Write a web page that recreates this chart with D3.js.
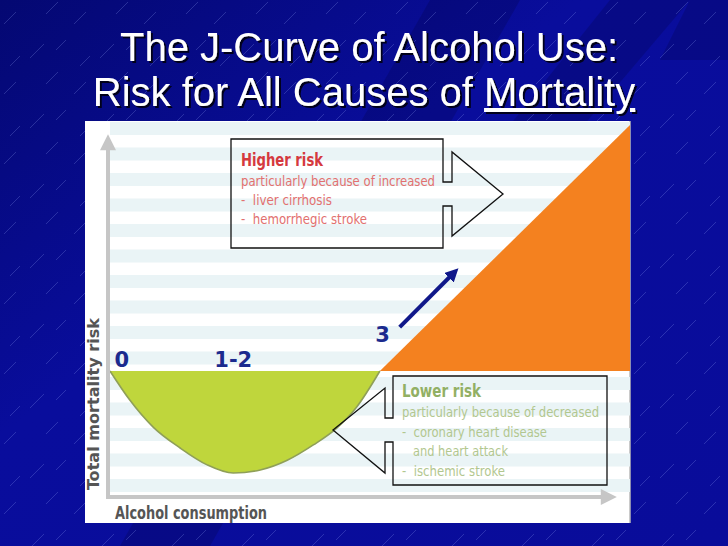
<!DOCTYPE html>
<html><head><meta charset="utf-8">
<script src="https://cdn.jsdelivr.net/npm/d3@7"></script>
<style>html,body{margin:0;padding:0;background:#0a0ca0;overflow:hidden}</style>
</head><body><svg id="c" width="728" height="546"></svg>
<script>
// ---- data ----
const titleLine1 = "The J-Curve of Alcohol Use:";
const titleLine2 = "Risk for All Causes of ";
const titleUnderlined = "Mortality";
const consumption   = [0, 0.22, 0.48, 0.78, 1.08, 1.37, 1.67, 1.97, 2.26, 2.52, 2.74, 3.0];
const mortalityRisk = [1.0, 0.943, 0.89, 0.849, 0.816, 0.80, 0.806, 0.825, 0.855, 0.888, 0.929, 1.0];
const highConsumption = [3.0, 5.78];
const highRisk = [1.0, 1.482];
const doseLabels = ["0", "1-2", "3"];
const doseAt = [0.13, 1.37, 3.03];
const doseLabelRisk = [1.008, 1.008, 1.057];
const higherTitle = "Higher risk";
const higherLines = ["particularly because of increased", "-  liver cirrhosis", "-  hemorrhegic stroke"];
const lowerTitle = "Lower risk";
const lowerLines = ["particularly because of decreased", "-  coronary heart disease", "and heart attack", "-  ischemic stroke"];
const yAxisLabel = "Total mortality risk";
const xAxisLabel = "Alcohol consumption";

// ---- layout (pixels) ----
const higherLineWidths = [194, 91, 126];
const lowerLineWidths = [197, 145, 95, 103];
const lowerLineIndent = [0, 0, 11, 0];

// ---- setup ----
const svg = d3.select("#c");
const W = 728, H = 546;
const defs = svg.append("defs");

// background
const bg = defs.append("linearGradient").attr("id","bg").attr("x1","0").attr("y1","0").attr("x2","1").attr("y2","1");
bg.append("stop").attr("offset","0").attr("stop-color","#040872");
bg.append("stop").attr("offset","0.4").attr("stop-color","#090d9c");
bg.append("stop").attr("offset","1").attr("stop-color","#090c9a");
const pat = defs.append("pattern").attr("id","streak").attr("width",70).attr("height",70).attr("patternUnits","userSpaceOnUse");
[[4,24,16,12],[30,58,44,44],[46,14,58,2],[10,66,20,56],[56,50,66,40]].forEach(l=>{
  pat.append("line").attr("x1",l[0]).attr("y1",l[1]).attr("x2",l[2]).attr("y2",l[3])
    .attr("stroke","rgba(160,175,255,0.33)").attr("stroke-width",0.7);
});
svg.append("rect").attr("width",W).attr("height",H).attr("fill","url(#bg)");
[[430,0,520,0,210,546,120,546],[610,0,690,0,520,200,450,200],[690,0,728,0,728,60,660,60]].forEach(p=>{
  svg.append("polygon").attr("points",`${p[0]},${p[1]} ${p[2]},${p[3]} ${p[4]},${p[5]} ${p[6]},${p[7]}`)
    .attr("fill","rgba(0,0,50,0.2)");
});
svg.append("rect").attr("width",W).attr("height",H).attr("fill","url(#streak)");

// title with drop shadow
const sh = defs.append("filter").attr("id","sh").attr("x","-5%").attr("y","-20%").attr("width","110%").attr("height","140%");
sh.append("feDropShadow").attr("dx",2).attr("dy",2).attr("stdDeviation",0.6).attr("flood-color","#000010").attr("flood-opacity",0.9);
const tg = svg.append("g").attr("font-family","'Liberation Sans', Arial, sans-serif").attr("font-size",40)
  .attr("text-anchor","middle").attr("fill","#ffffff").attr("filter","url(#sh)");
tg.append("text").attr("x",369).attr("y",61).text(titleLine1);
const t2 = tg.append("text").attr("x",364).attr("y",106);
t2.append("tspan").text(titleLine2);
t2.append("tspan").attr("text-decoration","underline").text(titleUnderlined);

// panel
svg.append("rect").attr("x",85).attr("y",121).attr("width",545).attr("height",402).attr("fill","#ffffff");
svg.append("line").attr("x1",630).attr("x2",630).attr("y1",121).attr("y2",523).attr("stroke","#b9b9b9").attr("stroke-width",1.5);

// scales
const x = d3.scaleLinear().domain([0, 5.78]).range([110, 630]);
const y = d3.scaleLinear().domain([0.753, 1.486]).range([497, 123]);

// stripes
const stripeTops = d3.range(122, 493, 25.5);
svg.append("g").selectAll("rect").data(stripeTops).join("rect")
  .attr("x",110).attr("width",520).attr("y",d=>d).attr("height",d=>Math.min(13, 493-d)).attr("fill","#eaf4f6");

// orange region
const high = highConsumption.map((c,i)=>({c, r: highRisk[i]}));
svg.append("path").datum(high)
  .attr("d", d3.area().x(d=>x(d.c)).y0(y(1)).y1(d=>y(d.r)))
  .attr("fill","#f4811f");

// green J-curve area
const low = consumption.map((c,i)=>({c, r: mortalityRisk[i]}));
svg.append("path").datum(low)
  .attr("d", d3.area().x(d=>x(d.c)).y0(y(1)).y1(d=>y(d.r)).curve(d3.curveMonotoneX))
  .attr("fill","#bfd63c");
svg.append("path").datum(low)
  .attr("d", d3.line().x(d=>x(d.c)).y(d=>y(d.r)).curve(d3.curveMonotoneX))
  .attr("fill","none").attr("stroke","#8f9f58").attr("stroke-width",1.6);

// axes (gray arrows)
defs.append("marker").attr("id","ah").attr("viewBox","0 0 10 10").attr("refX",2).attr("refY",5)
  .attr("markerWidth",5.5).attr("markerHeight",4).attr("orient","auto").attr("markerUnits","strokeWidth")
  .append("path").attr("d","M0,0 L10,5 L0,10 Z").attr("fill","#c6c6c6");
svg.append("line").attr("x1",108).attr("y1",499).attr("x2",108).attr("y2",147)
  .attr("stroke","#c6c6c6").attr("stroke-width",4).attr("marker-end","url(#ah)");
svg.append("line").attr("x1",106).attr("y1",497).attr("x2",604).attr("y2",497)
  .attr("stroke","#c6c6c6").attr("stroke-width",4).attr("marker-end","url(#ah)");

// axis titles
const labFont = "'DejaVu Sans Condensed','DejaVu Sans',sans-serif";
svg.append("text").attr("transform","translate(99,490) rotate(-90)")
  .attr("font-family",labFont).attr("font-weight","bold")
  .attr("font-size",16).attr("fill","#555555")
  .attr("textLength",172).attr("lengthAdjust","spacingAndGlyphs").text(yAxisLabel);
svg.append("text").attr("x",115).attr("y",519)
  .attr("font-family",labFont).attr("font-weight","bold")
  .attr("font-size",17).attr("fill","#555555")
  .attr("textLength",152).attr("lengthAdjust","spacingAndGlyphs").text(xAxisLabel);

// dose labels
svg.append("g").selectAll("text").data(doseLabels).join("text")
  .attr("x",(d,i)=>x(doseAt[i])).attr("y",(d,i)=>y(doseLabelRisk[i]))
  .attr("text-anchor","middle").attr("font-family","'DejaVu Sans',sans-serif").attr("font-weight","bold")
  .attr("font-size",21).attr("fill","#1b2a8e").text(d=>d);

// blue arrow
defs.append("marker").attr("id","bh").attr("viewBox","0 0 10 10").attr("refX",5).attr("refY",5)
  .attr("markerWidth",3.4).attr("markerHeight",3.4).attr("orient","auto").attr("markerUnits","strokeWidth")
  .append("path").attr("d","M0,0 L10,5 L0,10 Z").attr("fill","#10188a");
svg.append("line").attr("x1",x(3.22)).attr("y1",y(1.086)).attr("x2",x(3.82)).attr("y2",y(1.192))
  .attr("stroke","#10188a").attr("stroke-width",4).attr("marker-end","url(#bh)");

// callouts
svg.append("path").attr("d","M231,139 H443 V182 H452 V152 L503,194 L452,236 V206 H443 V248 H231 Z")
  .attr("fill","none").attr("stroke","#111").attr("stroke-width",1.3);
svg.append("path").attr("d","M393,376 H607 V485 H393 V442 H385 V473 L333,430 L385,388 V418 H393 Z")
  .attr("fill","none").attr("stroke","#111").attr("stroke-width",1.3);

const boxFont = "'DejaVu Sans Condensed','DejaVu Sans',sans-serif";
svg.append("text").attr("x",241).attr("y",166).attr("font-family",boxFont).attr("font-weight","bold")
  .attr("font-size",17).attr("fill","#d5393e")
  .attr("textLength",82).attr("lengthAdjust","spacingAndGlyphs").text(higherTitle);
svg.append("g").selectAll("text").data(higherLines).join("text")
  .attr("x",241).attr("y",(d,i)=>186+i*19).attr("font-family",boxFont).attr("font-size",14.5)
  .attr("fill","#e2706f").style("white-space","pre")
  .attr("textLength",(d,i)=>higherLineWidths[i]).attr("lengthAdjust","spacingAndGlyphs").text(d=>d);
svg.append("text").attr("x",402).attr("y",397).attr("font-family",boxFont).attr("font-weight","bold")
  .attr("font-size",17).attr("fill","#92b064")
  .attr("textLength",79).attr("lengthAdjust","spacingAndGlyphs").text(lowerTitle);
svg.append("g").selectAll("text").data(lowerLines).join("text")
  .attr("x",(d,i)=>402+lowerLineIndent[i]).attr("y",(d,i)=>417+i*19.5).attr("font-family",boxFont).attr("font-size",14.5)
  .attr("fill","#b2c78f").style("white-space","pre")
  .attr("textLength",(d,i)=>lowerLineWidths[i]).attr("lengthAdjust","spacingAndGlyphs").text(d=>d);
</script></body></html>
